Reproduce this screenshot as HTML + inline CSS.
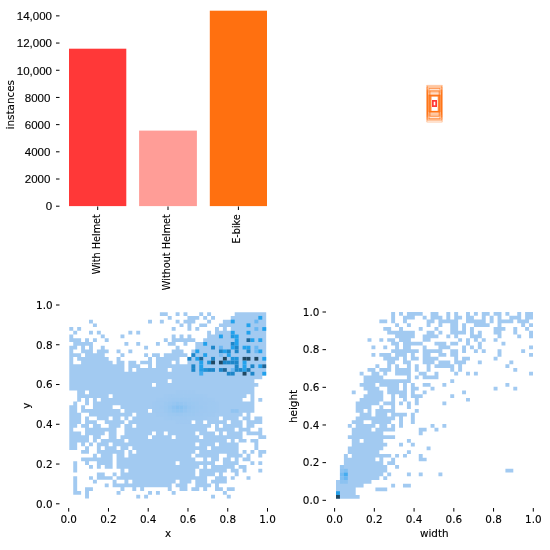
<!DOCTYPE html>
<html lang="en"><head><meta charset="utf-8"><title>labels</title>
<style>html,body{margin:0;padding:0;background:#fff}svg{display:block}</style></head>
<body>
<svg width="550" height="550" viewBox="0 0 550 550">
<rect width="550" height="550" fill="#fff"/>
<rect x="69.00" y="48.70" width="57.30" height="157.40" fill="#FF3838"/>
<rect x="139.10" y="130.60" width="57.80" height="75.50" fill="#FF9D97"/>
<rect x="209.80" y="10.70" width="57.20" height="195.40" fill="#FF7010"/>
<g stroke="#000000" stroke-width="1.00">
<line x1="56.00" x2="59.50" y1="206.20" y2="206.20"/>
<line x1="56.00" x2="59.50" y1="179.01" y2="179.01"/>
<line x1="56.00" x2="59.50" y1="151.82" y2="151.82"/>
<line x1="56.00" x2="59.50" y1="124.63" y2="124.63"/>
<line x1="56.00" x2="59.50" y1="97.44" y2="97.44"/>
<line x1="56.00" x2="59.50" y1="70.25" y2="70.25"/>
<line x1="56.00" x2="59.50" y1="43.06" y2="43.06"/>
<line x1="56.00" x2="59.50" y1="15.87" y2="15.87"/>
<line x1="97.70" x2="97.70" y1="206.50" y2="210.00"/>
<line x1="168.00" x2="168.00" y1="206.50" y2="210.00"/>
<line x1="238.40" x2="238.40" y1="206.50" y2="210.00"/>
<line x1="68.70" x2="68.70" y1="508.00" y2="511.60"/>
<line x1="56.00" x2="59.50" y1="503.80" y2="503.80"/>
<line x1="108.46" x2="108.46" y1="508.00" y2="511.60"/>
<line x1="56.00" x2="59.50" y1="464.04" y2="464.04"/>
<line x1="148.22" x2="148.22" y1="508.00" y2="511.60"/>
<line x1="56.00" x2="59.50" y1="424.28" y2="424.28"/>
<line x1="187.98" x2="187.98" y1="508.00" y2="511.60"/>
<line x1="56.00" x2="59.50" y1="384.52" y2="384.52"/>
<line x1="227.74" x2="227.74" y1="508.00" y2="511.60"/>
<line x1="56.00" x2="59.50" y1="344.76" y2="344.76"/>
<line x1="267.50" x2="267.50" y1="508.00" y2="511.60"/>
<line x1="56.00" x2="59.50" y1="305.00" y2="305.00"/>
<line x1="334.60" x2="334.60" y1="508.00" y2="511.60"/>
<line x1="322.50" x2="326.00" y1="500.30" y2="500.30"/>
<line x1="374.34" x2="374.34" y1="508.00" y2="511.60"/>
<line x1="322.50" x2="326.00" y1="462.64" y2="462.64"/>
<line x1="414.08" x2="414.08" y1="508.00" y2="511.60"/>
<line x1="322.50" x2="326.00" y1="424.98" y2="424.98"/>
<line x1="453.82" x2="453.82" y1="508.00" y2="511.60"/>
<line x1="322.50" x2="326.00" y1="387.32" y2="387.32"/>
<line x1="493.56" x2="493.56" y1="508.00" y2="511.60"/>
<line x1="322.50" x2="326.00" y1="349.66" y2="349.66"/>
<line x1="533.30" x2="533.30" y1="508.00" y2="511.60"/>
<line x1="322.50" x2="326.00" y1="312.00" y2="312.00"/>
</g>
<g font-family="'Liberation Sans', Arial, sans-serif" font-size="10.50" fill="#000000" stroke="#000000" stroke-width="0.12" text-anchor="end">
<text transform="translate(52.30 210.45) scale(1.100 1)">0</text>
<text transform="translate(50.40 183.26) scale(1.100 1)">2000</text>
<text transform="translate(50.40 156.07) scale(1.100 1)">4000</text>
<text transform="translate(50.40 128.88) scale(1.100 1)">6000</text>
<text transform="translate(50.40 101.69) scale(1.100 1)">8000</text>
<text transform="translate(52.00 74.50) scale(1.100 1)">10,000</text>
<text transform="translate(52.00 47.31) scale(1.100 1)">12,000</text>
<text transform="translate(52.00 20.12) scale(1.100 1)">14,000</text>
</g>
<g font-family="'DejaVu Sans', 'Liberation Sans', sans-serif" fill="#000000" stroke="#000000" stroke-width="0.12">
<text font-size="9.68" text-anchor="end" transform="translate(99.90 214.20) rotate(-90)">With Helmet</text>
<text font-size="9.68" text-anchor="end" transform="translate(170.10 214.20) rotate(-90)">Without Helmet</text>
<text font-size="9.68" text-anchor="end" transform="translate(240.30 214.20) rotate(-90)">E-bike</text>
<text font-size="10.40" text-anchor="middle" transform="translate(13.80 104.70) rotate(-90)">instances</text>
<text font-size="10.40" text-anchor="middle" x="68.70" y="523.30">0.0</text>
<text font-size="10.40" text-anchor="end" x="52.60" y="507.60">0.0</text>
<text font-size="10.40" text-anchor="middle" x="108.46" y="523.30">0.2</text>
<text font-size="10.40" text-anchor="end" x="52.60" y="467.84">0.2</text>
<text font-size="10.40" text-anchor="middle" x="148.22" y="523.30">0.4</text>
<text font-size="10.40" text-anchor="end" x="52.60" y="428.08">0.4</text>
<text font-size="10.40" text-anchor="middle" x="187.98" y="523.30">0.6</text>
<text font-size="10.40" text-anchor="end" x="52.60" y="388.32">0.6</text>
<text font-size="10.40" text-anchor="middle" x="227.74" y="523.30">0.8</text>
<text font-size="10.40" text-anchor="end" x="52.60" y="348.56">0.8</text>
<text font-size="10.40" text-anchor="middle" x="267.50" y="523.30">1.0</text>
<text font-size="10.40" text-anchor="end" x="52.60" y="308.80">1.0</text>
<text font-size="10.40" text-anchor="middle" x="168.20" y="537.00">x</text>
<text font-size="10.40" text-anchor="middle" transform="translate(29.50 405.70) rotate(-90)">y</text>
<text font-size="10.40" text-anchor="middle" x="334.60" y="523.30">0.0</text>
<text font-size="10.40" text-anchor="end" x="319.30" y="504.10">0.0</text>
<text font-size="10.40" text-anchor="middle" x="374.34" y="523.30">0.2</text>
<text font-size="10.40" text-anchor="end" x="319.30" y="466.44">0.2</text>
<text font-size="10.40" text-anchor="middle" x="414.08" y="523.30">0.4</text>
<text font-size="10.40" text-anchor="end" x="319.30" y="428.78">0.4</text>
<text font-size="10.40" text-anchor="middle" x="453.82" y="523.30">0.6</text>
<text font-size="10.40" text-anchor="end" x="319.30" y="391.12">0.6</text>
<text font-size="10.40" text-anchor="middle" x="493.56" y="523.30">0.8</text>
<text font-size="10.40" text-anchor="end" x="319.30" y="353.46">0.8</text>
<text font-size="10.40" text-anchor="middle" x="533.30" y="523.30">1.0</text>
<text font-size="10.40" text-anchor="end" x="319.30" y="315.80">1.0</text>
<text font-size="10.40" text-anchor="middle" x="434.30" y="537.00">width</text>
<text font-size="10.40" text-anchor="middle" transform="translate(296.50 406.50) rotate(-90)">height</text>
</g>
<path fill="#a2caf1" d="M159.87 312.20h7.88v3.73h-7.88zM175.63 312.20h3.94v3.73h-3.94zM183.50 312.20h3.94v3.73h-3.94zM199.25 312.20h3.94v3.73h-3.94zM207.13 312.20h3.94v3.73h-3.94zM234.70 312.20h31.50v3.73h-31.50zM167.75 315.93h3.94v3.73h-3.94zM187.44 315.93h11.81v3.73h-11.81zM203.19 315.93h3.94v3.73h-3.94zM211.07 315.93h3.94v3.73h-3.94zM230.76 315.93h35.44v3.73h-35.44zM88.99 319.65h3.94v3.73h-3.94zM148.06 319.65h3.94v3.73h-3.94zM159.87 319.65h3.94v3.73h-3.94zM175.63 319.65h3.94v3.73h-3.94zM183.50 319.65h11.81v3.73h-11.81zM207.13 319.65h3.94v3.73h-3.94zM222.88 319.65h43.32v3.73h-43.32zM92.93 323.38h3.94v3.73h-3.94zM179.56 323.38h3.94v3.73h-3.94zM187.44 323.38h3.94v3.73h-3.94zM199.25 323.38h7.88v3.73h-7.88zM218.94 323.38h47.26v3.73h-47.26zM69.30 327.10h3.94v3.73h-3.94zM77.18 327.10h3.94v3.73h-3.94zM171.69 327.10h3.94v3.73h-3.94zM187.44 327.10h3.94v3.73h-3.94zM195.32 327.10h3.94v3.73h-3.94zM215.01 327.10h3.94v3.73h-3.94zM222.88 327.10h3.94v3.73h-3.94zM230.76 327.10h35.44v3.73h-35.44zM73.24 330.83h3.94v3.73h-3.94zM88.99 330.83h3.94v3.73h-3.94zM96.87 330.83h3.94v3.73h-3.94zM128.37 330.83h3.94v3.73h-3.94zM136.25 330.83h3.94v3.73h-3.94zM207.13 330.83h3.94v3.73h-3.94zM215.01 330.83h51.19v3.73h-51.19zM69.30 334.56h3.94v3.73h-3.94zM100.80 334.56h3.94v3.73h-3.94zM120.49 334.56h3.94v3.73h-3.94zM171.69 334.56h3.94v3.73h-3.94zM179.56 334.56h3.94v3.73h-3.94zM187.44 334.56h3.94v3.73h-3.94zM207.13 334.56h59.07v3.73h-59.07zM69.30 338.28h11.81v3.73h-11.81zM85.05 338.28h3.94v3.73h-3.94zM92.93 338.28h3.94v3.73h-3.94zM104.74 338.28h3.94v3.73h-3.94zM163.81 338.28h3.94v3.73h-3.94zM171.69 338.28h23.63v3.73h-23.63zM203.19 338.28h63.01v3.73h-63.01zM73.24 342.01h19.69v3.73h-19.69zM124.43 342.01h3.94v3.73h-3.94zM136.25 342.01h3.94v3.73h-3.94zM155.94 342.01h3.94v3.73h-3.94zM167.75 342.01h7.88v3.73h-7.88zM183.50 342.01h3.94v3.73h-3.94zM195.32 342.01h70.88v3.73h-70.88zM69.30 345.73h7.88v3.73h-7.88zM81.11 345.73h3.94v3.73h-3.94zM88.99 345.73h3.94v3.73h-3.94zM100.80 345.73h3.94v3.73h-3.94zM144.12 345.73h3.94v3.73h-3.94zM175.63 345.73h3.94v3.73h-3.94zM195.32 345.73h70.88v3.73h-70.88zM69.30 349.46h3.94v3.73h-3.94zM81.11 349.46h11.81v3.73h-11.81zM96.87 349.46h11.81v3.73h-11.81zM116.56 349.46h3.94v3.73h-3.94zM128.37 349.46h3.94v3.73h-3.94zM171.69 349.46h11.81v3.73h-11.81zM191.38 349.46h74.82v3.73h-74.82zM69.30 353.19h11.81v3.73h-11.81zM85.05 353.19h19.69v3.73h-19.69zM120.49 353.19h3.94v3.73h-3.94zM144.12 353.19h3.94v3.73h-3.94zM152.00 353.19h7.88v3.73h-7.88zM163.81 353.19h23.63v3.73h-23.63zM191.38 353.19h74.82v3.73h-74.82zM69.30 356.91h3.94v3.73h-3.94zM77.18 356.91h31.50v3.73h-31.50zM116.56 356.91h3.94v3.73h-3.94zM148.06 356.91h3.94v3.73h-3.94zM155.94 356.91h23.63v3.73h-23.63zM187.44 356.91h78.76v3.73h-78.76zM69.30 360.64h3.94v3.73h-3.94zM81.11 360.64h31.50v3.73h-31.50zM116.56 360.64h7.88v3.73h-7.88zM128.37 360.64h7.88v3.73h-7.88zM140.18 360.64h11.81v3.73h-11.81zM155.94 360.64h15.75v3.73h-15.75zM175.63 360.64h3.94v3.73h-3.94zM187.44 360.64h78.76v3.73h-78.76zM69.30 364.36h55.13v3.73h-55.13zM128.37 364.36h11.81v3.73h-11.81zM148.06 364.36h3.94v3.73h-3.94zM155.94 364.36h110.26v3.73h-110.26zM69.30 368.09h55.13v3.73h-55.13zM128.37 368.09h3.94v3.73h-3.94zM136.25 368.09h31.50v3.73h-31.50zM171.69 368.09h94.51v3.73h-94.51zM69.30 371.82h196.90v3.73h-196.90zM69.30 375.54h192.96v3.73h-192.96zM69.30 379.27h98.45v3.73h-98.45zM171.69 379.27h82.70v3.73h-82.70zM69.30 382.99h82.70v3.73h-82.70zM155.94 382.99h102.39v3.73h-102.39zM69.30 386.72h185.09v3.73h-185.09zM77.18 390.45h7.88v3.73h-7.88zM88.99 390.45h165.40v3.73h-165.40zM77.18 394.17h31.50v3.73h-31.50zM112.62 394.17h133.89v3.73h-133.89zM250.45 394.17h3.94v3.73h-3.94zM77.18 397.90h3.94v3.73h-3.94zM85.05 397.90h3.94v3.73h-3.94zM92.93 397.90h3.94v3.73h-3.94zM100.80 397.90h141.77v3.73h-141.77zM250.45 397.90h3.94v3.73h-3.94zM258.32 397.90h3.94v3.73h-3.94zM73.24 401.62h3.94v3.73h-3.94zM85.05 401.62h3.94v3.73h-3.94zM92.93 401.62h161.46v3.73h-161.46zM69.30 405.35h7.88v3.73h-7.88zM81.11 405.35h3.94v3.73h-3.94zM92.93 405.35h19.69v3.73h-19.69zM120.49 405.35h133.89v3.73h-133.89zM69.30 409.08h7.88v3.73h-7.88zM81.11 409.08h39.38v3.73h-39.38zM124.43 409.08h23.63v3.73h-23.63zM152.00 409.08h102.39v3.73h-102.39zM69.30 412.80h11.81v3.73h-11.81zM88.99 412.80h43.32v3.73h-43.32zM136.25 412.80h106.33v3.73h-106.33zM246.51 412.80h3.94v3.73h-3.94zM69.30 416.53h11.81v3.73h-11.81zM85.05 416.53h3.94v3.73h-3.94zM96.87 416.53h11.81v3.73h-11.81zM112.62 416.53h7.88v3.73h-7.88zM124.43 416.53h3.94v3.73h-3.94zM132.31 416.53h86.64v3.73h-86.64zM222.88 416.53h15.75v3.73h-15.75zM242.57 416.53h7.88v3.73h-7.88zM254.39 416.53h7.88v3.73h-7.88zM69.30 420.25h11.81v3.73h-11.81zM85.05 420.25h11.81v3.73h-11.81zM104.74 420.25h19.69v3.73h-19.69zM128.37 420.25h63.01v3.73h-63.01zM195.32 420.25h7.88v3.73h-7.88zM207.13 420.25h19.69v3.73h-19.69zM230.76 420.25h11.81v3.73h-11.81zM246.51 420.25h15.75v3.73h-15.75zM69.30 423.98h7.88v3.73h-7.88zM81.11 423.98h7.88v3.73h-7.88zM92.93 423.98h7.88v3.73h-7.88zM108.68 423.98h11.81v3.73h-11.81zM124.43 423.98h7.88v3.73h-7.88zM136.25 423.98h74.82v3.73h-74.82zM215.01 423.98h3.94v3.73h-3.94zM222.88 423.98h19.69v3.73h-19.69zM246.51 423.98h7.88v3.73h-7.88zM69.30 427.71h3.94v3.73h-3.94zM85.05 427.71h31.50v3.73h-31.50zM124.43 427.71h82.70v3.73h-82.70zM215.01 427.71h19.69v3.73h-19.69zM238.63 427.71h11.81v3.73h-11.81zM258.32 427.71h3.94v3.73h-3.94zM69.30 431.43h11.81v3.73h-11.81zM85.05 431.43h19.69v3.73h-19.69zM108.68 431.43h7.88v3.73h-7.88zM124.43 431.43h27.57v3.73h-27.57zM155.94 431.43h7.88v3.73h-7.88zM167.75 431.43h27.57v3.73h-27.57zM199.25 431.43h15.75v3.73h-15.75zM218.94 431.43h3.94v3.73h-3.94zM226.82 431.43h15.75v3.73h-15.75zM246.51 431.43h15.75v3.73h-15.75zM69.30 435.16h19.69v3.73h-19.69zM92.93 435.16h7.88v3.73h-7.88zM108.68 435.16h7.88v3.73h-7.88zM120.49 435.16h27.57v3.73h-27.57zM152.00 435.16h19.69v3.73h-19.69zM175.63 435.16h23.63v3.73h-23.63zM203.19 435.16h39.38v3.73h-39.38zM258.32 435.16h7.88v3.73h-7.88zM69.30 438.88h19.69v3.73h-19.69zM92.93 438.88h3.94v3.73h-3.94zM100.80 438.88h23.63v3.73h-23.63zM128.37 438.88h98.45v3.73h-98.45zM230.76 438.88h3.94v3.73h-3.94zM238.63 438.88h7.88v3.73h-7.88zM250.45 438.88h7.88v3.73h-7.88zM69.30 442.61h7.88v3.73h-7.88zM81.11 442.61h3.94v3.73h-3.94zM88.99 442.61h3.94v3.73h-3.94zM96.87 442.61h11.81v3.73h-11.81zM112.62 442.61h82.70v3.73h-82.70zM199.25 442.61h15.75v3.73h-15.75zM218.94 442.61h19.69v3.73h-19.69zM254.39 442.61h3.94v3.73h-3.94zM69.30 446.34h7.88v3.73h-7.88zM85.05 446.34h3.94v3.73h-3.94zM96.87 446.34h3.94v3.73h-3.94zM104.74 446.34h11.81v3.73h-11.81zM120.49 446.34h7.88v3.73h-7.88zM132.31 446.34h74.82v3.73h-74.82zM211.07 446.34h27.57v3.73h-27.57zM254.39 446.34h3.94v3.73h-3.94zM81.11 450.06h7.88v3.73h-7.88zM96.87 450.06h27.57v3.73h-27.57zM128.37 450.06h3.94v3.73h-3.94zM136.25 450.06h59.07v3.73h-59.07zM199.25 450.06h39.38v3.73h-39.38zM242.57 450.06h3.94v3.73h-3.94zM250.45 450.06h3.94v3.73h-3.94zM258.32 450.06h7.88v3.73h-7.88zM92.93 453.79h3.94v3.73h-3.94zM100.80 453.79h11.81v3.73h-11.81zM116.56 453.79h7.88v3.73h-7.88zM128.37 453.79h63.01v3.73h-63.01zM195.32 453.79h23.63v3.73h-23.63zM226.82 453.79h15.75v3.73h-15.75zM246.51 453.79h3.94v3.73h-3.94zM258.32 453.79h3.94v3.73h-3.94zM81.11 457.51h31.50v3.73h-31.50zM116.56 457.51h78.76v3.73h-78.76zM203.19 457.51h3.94v3.73h-3.94zM211.07 457.51h7.88v3.73h-7.88zM222.88 457.51h7.88v3.73h-7.88zM234.70 457.51h3.94v3.73h-3.94zM242.57 457.51h7.88v3.73h-7.88zM73.24 461.24h3.94v3.73h-3.94zM85.05 461.24h3.94v3.73h-3.94zM96.87 461.24h15.75v3.73h-15.75zM116.56 461.24h59.07v3.73h-59.07zM179.56 461.24h35.44v3.73h-35.44zM222.88 461.24h15.75v3.73h-15.75zM250.45 461.24h3.94v3.73h-3.94zM258.32 461.24h3.94v3.73h-3.94zM73.24 464.97h3.94v3.73h-3.94zM88.99 464.97h3.94v3.73h-3.94zM96.87 464.97h3.94v3.73h-3.94zM104.74 464.97h7.88v3.73h-7.88zM116.56 464.97h82.70v3.73h-82.70zM203.19 464.97h3.94v3.73h-3.94zM211.07 464.97h23.63v3.73h-23.63zM238.63 464.97h7.88v3.73h-7.88zM73.24 468.69h3.94v3.73h-3.94zM120.49 468.69h3.94v3.73h-3.94zM128.37 468.69h66.95v3.73h-66.95zM199.25 468.69h27.57v3.73h-27.57zM230.76 468.69h7.88v3.73h-7.88zM242.57 468.69h3.94v3.73h-3.94zM258.32 468.69h3.94v3.73h-3.94zM96.87 472.42h7.88v3.73h-7.88zM112.62 472.42h3.94v3.73h-3.94zM120.49 472.42h74.82v3.73h-74.82zM199.25 472.42h15.75v3.73h-15.75zM218.94 472.42h3.94v3.73h-3.94zM234.70 472.42h3.94v3.73h-3.94zM73.24 476.14h3.94v3.73h-3.94zM88.99 476.14h3.94v3.73h-3.94zM96.87 476.14h15.75v3.73h-15.75zM116.56 476.14h90.57v3.73h-90.57zM215.01 476.14h11.81v3.73h-11.81zM230.76 476.14h3.94v3.73h-3.94zM246.51 476.14h3.94v3.73h-3.94zM73.24 479.87h3.94v3.73h-3.94zM92.93 479.87h3.94v3.73h-3.94zM112.62 479.87h3.94v3.73h-3.94zM124.43 479.87h3.94v3.73h-3.94zM132.31 479.87h43.32v3.73h-43.32zM179.56 479.87h11.81v3.73h-11.81zM195.32 479.87h11.81v3.73h-11.81zM211.07 479.87h15.75v3.73h-15.75zM73.24 483.60h3.94v3.73h-3.94zM104.74 483.60h3.94v3.73h-3.94zM112.62 483.60h59.07v3.73h-59.07zM175.63 483.60h11.81v3.73h-11.81zM195.32 483.60h15.75v3.73h-15.75zM215.01 483.60h3.94v3.73h-3.94zM73.24 487.32h3.94v3.73h-3.94zM85.05 487.32h7.88v3.73h-7.88zM120.49 487.32h3.94v3.73h-3.94zM132.31 487.32h3.94v3.73h-3.94zM140.18 487.32h3.94v3.73h-3.94zM167.75 487.32h3.94v3.73h-3.94zM179.56 487.32h7.88v3.73h-7.88zM191.38 487.32h7.88v3.73h-7.88zM203.19 487.32h3.94v3.73h-3.94zM215.01 487.32h7.88v3.73h-7.88zM226.82 487.32h7.88v3.73h-7.88zM73.24 491.05h7.88v3.73h-7.88zM85.05 491.05h3.94v3.73h-3.94zM116.56 491.05h3.94v3.73h-3.94zM148.06 491.05h3.94v3.73h-3.94zM155.94 491.05h3.94v3.73h-3.94zM171.69 491.05h3.94v3.73h-3.94zM222.88 491.05h3.94v3.73h-3.94zM85.05 494.77h3.94v3.73h-3.94zM136.25 494.77h3.94v3.73h-3.94zM144.12 494.77h3.94v3.73h-3.94zM211.07 494.77h3.94v3.73h-3.94zM226.82 494.77h3.94v3.73h-3.94zM69.30 334.56h3.94v7.45h-3.94zM69.30 345.73h3.94v44.71h-3.94zM69.30 405.35h3.94v44.71h-3.94zM73.24 338.28h3.94v11.18h-3.94zM73.24 364.36h3.94v26.08h-3.94zM73.24 401.62h3.94v26.08h-3.94zM73.24 431.43h3.94v18.63h-3.94zM73.24 461.24h3.94v11.18h-3.94zM73.24 476.14h3.94v18.63h-3.94zM77.18 338.28h3.94v7.45h-3.94zM77.18 353.19h3.94v7.45h-3.94zM77.18 364.36h3.94v37.26h-3.94zM77.18 412.80h3.94v11.18h-3.94zM77.18 431.43h3.94v11.18h-3.94zM81.11 342.01h3.94v11.18h-3.94zM81.11 356.91h3.94v40.99h-3.94zM81.11 405.35h3.94v7.45h-3.94zM81.11 435.16h3.94v11.18h-3.94zM85.05 338.28h3.94v7.45h-3.94zM85.05 349.46h3.94v40.99h-3.94zM85.05 394.17h3.94v11.18h-3.94zM85.05 416.53h3.94v26.08h-3.94zM85.05 446.34h3.94v7.45h-3.94zM85.05 457.51h3.94v7.45h-3.94zM85.05 487.32h3.94v11.18h-3.94zM88.99 342.01h3.94v55.89h-3.94zM88.99 409.08h3.94v7.45h-3.94zM88.99 427.71h3.94v7.45h-3.94zM92.93 353.19h3.94v63.34h-3.94zM92.93 420.25h3.94v22.36h-3.94zM92.93 453.79h3.94v7.45h-3.94zM96.87 349.46h3.94v48.44h-3.94zM96.87 401.62h3.94v18.63h-3.94zM96.87 423.98h3.94v14.90h-3.94zM96.87 442.61h3.94v11.18h-3.94zM96.87 457.51h3.94v11.18h-3.94zM96.87 472.42h3.94v7.45h-3.94zM100.80 345.73h3.94v74.52h-3.94zM100.80 427.71h3.94v7.45h-3.94zM100.80 438.88h3.94v7.45h-3.94zM100.80 450.06h3.94v14.90h-3.94zM100.80 472.42h3.94v7.45h-3.94zM104.74 356.91h3.94v67.07h-3.94zM104.74 438.88h3.94v29.81h-3.94zM108.68 360.64h3.94v33.53h-3.94zM108.68 397.90h3.94v18.63h-3.94zM108.68 420.25h3.94v22.36h-3.94zM108.68 446.34h3.94v22.36h-3.94zM112.62 364.36h3.94v40.99h-3.94zM112.62 409.08h3.94v44.71h-3.94zM112.62 479.87h3.94v7.45h-3.94zM116.56 356.91h3.94v48.44h-3.94zM116.56 409.08h3.94v18.63h-3.94zM116.56 438.88h3.94v7.45h-3.94zM116.56 450.06h3.94v18.63h-3.94zM120.49 360.64h3.94v48.44h-3.94zM120.49 435.16h3.94v44.71h-3.94zM120.49 483.60h3.94v7.45h-3.94zM124.43 371.82h3.94v48.44h-3.94zM124.43 423.98h3.94v14.90h-3.94zM124.43 442.61h3.94v7.45h-3.94zM124.43 457.51h3.94v11.18h-3.94zM124.43 472.42h3.94v14.90h-3.94zM128.37 360.64h3.94v55.89h-3.94zM128.37 420.25h3.94v26.08h-3.94zM128.37 450.06h3.94v29.81h-3.94zM132.31 360.64h3.94v7.45h-3.94zM132.31 371.82h3.94v40.99h-3.94zM132.31 416.53h3.94v7.45h-3.94zM132.31 427.71h3.94v22.36h-3.94zM132.31 453.79h3.94v37.26h-3.94zM136.25 364.36h3.94v122.96h-3.94zM140.18 368.09h3.94v122.96h-3.94zM144.12 368.09h3.94v119.23h-3.94zM148.06 356.91h3.94v52.16h-3.94zM148.06 412.80h3.94v22.36h-3.94zM148.06 438.88h3.94v48.44h-3.94zM152.00 368.09h3.94v14.90h-3.94zM152.00 386.72h3.94v44.71h-3.94zM152.00 435.16h3.94v52.16h-3.94zM155.94 353.19h3.94v134.14h-3.94zM159.87 356.91h3.94v130.41h-3.94zM163.81 353.19h3.94v78.25h-3.94zM163.81 435.16h3.94v52.16h-3.94zM167.75 353.19h3.94v14.90h-3.94zM167.75 371.82h3.94v7.45h-3.94zM167.75 382.99h3.94v108.05h-3.94zM171.69 334.56h3.94v11.18h-3.94zM171.69 349.46h3.94v11.18h-3.94zM171.69 364.36h3.94v70.79h-3.94zM171.69 438.88h3.94v44.71h-3.94zM175.63 345.73h3.94v115.51h-3.94zM175.63 464.97h3.94v14.90h-3.94zM179.56 334.56h3.94v7.45h-3.94zM179.56 349.46h3.94v7.45h-3.94zM179.56 364.36h3.94v126.68h-3.94zM183.50 338.28h3.94v7.45h-3.94zM183.50 364.36h3.94v126.68h-3.94zM187.44 315.93h3.94v14.90h-3.94zM187.44 334.56h3.94v7.45h-3.94zM187.44 356.91h3.94v126.68h-3.94zM191.38 315.93h3.94v7.45h-3.94zM191.38 349.46h3.94v70.79h-3.94zM191.38 423.98h3.94v29.81h-3.94zM191.38 457.51h3.94v22.36h-3.94zM195.32 342.01h3.94v89.42h-3.94zM195.32 435.16h3.94v7.45h-3.94zM195.32 461.24h3.94v7.45h-3.94zM195.32 476.14h3.94v14.90h-3.94zM199.25 342.01h3.94v93.15h-3.94zM199.25 438.88h3.94v18.63h-3.94zM199.25 468.69h3.94v18.63h-3.94zM203.19 338.28h3.94v81.97h-3.94zM203.19 423.98h3.94v67.07h-3.94zM207.13 330.83h3.94v96.88h-3.94zM207.13 431.43h3.94v14.90h-3.94zM207.13 450.06h3.94v7.45h-3.94zM207.13 468.69h3.94v7.45h-3.94zM211.07 334.56h3.94v89.42h-3.94zM211.07 431.43h3.94v44.71h-3.94zM215.01 327.10h3.94v104.33h-3.94zM215.01 435.16h3.94v7.45h-3.94zM215.01 446.34h3.94v14.90h-3.94zM215.01 464.97h3.94v7.45h-3.94zM215.01 476.14h3.94v14.90h-3.94zM218.94 330.83h3.94v85.70h-3.94zM218.94 427.71h3.94v26.08h-3.94zM218.94 464.97h3.94v18.63h-3.94zM222.88 319.65h3.94v111.78h-3.94zM222.88 435.16h3.94v18.63h-3.94zM222.88 457.51h3.94v14.90h-3.94zM222.88 476.14h3.94v7.45h-3.94zM226.82 319.65h3.94v7.45h-3.94zM226.82 330.83h3.94v89.42h-3.94zM226.82 423.98h3.94v14.90h-3.94zM226.82 442.61h3.94v26.08h-3.94zM230.76 315.93h3.94v141.59h-3.94zM230.76 461.24h3.94v11.18h-3.94zM234.70 312.20h3.94v115.51h-3.94zM234.70 431.43h3.94v7.45h-3.94zM234.70 442.61h3.94v22.36h-3.94zM234.70 468.69h3.94v7.45h-3.94zM238.63 312.20h3.94v104.33h-3.94zM238.63 420.25h3.94v22.36h-3.94zM242.57 312.20h3.94v85.70h-3.94zM242.57 401.62h3.94v11.18h-3.94zM242.57 464.97h3.94v7.45h-3.94zM246.51 312.20h3.94v81.97h-3.94zM246.51 401.62h3.94v33.53h-3.94zM246.51 453.79h3.94v7.45h-3.94zM250.45 312.20h3.94v100.60h-3.94zM250.45 420.25h3.94v7.45h-3.94zM254.39 312.20h3.94v67.07h-3.94zM254.39 416.53h3.94v7.45h-3.94zM254.39 438.88h3.94v11.18h-3.94zM258.32 312.20h3.94v67.07h-3.94zM258.32 416.53h3.94v7.45h-3.94zM258.32 427.71h3.94v11.18h-3.94zM258.32 450.06h3.94v7.45h-3.94zM262.26 312.20h3.94v63.34h-3.94z"/><g><rect x="258.32" y="315.93" width="3.94" height="3.73" fill="#22a1ec"/><rect x="230.76" y="319.65" width="3.94" height="3.73" fill="#22a1ec"/><rect x="254.39" y="319.65" width="3.94" height="3.73" fill="#6ab7f2"/><rect x="246.51" y="323.38" width="3.94" height="3.73" fill="#22a1ec"/><rect x="254.39" y="327.10" width="3.94" height="3.73" fill="#6ab7f2"/><rect x="262.26" y="327.10" width="3.94" height="3.73" fill="#22a1ec"/><rect x="230.76" y="330.83" width="3.94" height="3.73" fill="#22a1ec"/><rect x="246.51" y="330.83" width="3.94" height="3.73" fill="#22a1ec"/><rect x="218.94" y="334.56" width="3.94" height="3.73" fill="#22a1ec"/><rect x="230.76" y="334.56" width="3.94" height="3.73" fill="#2099e2"/><rect x="234.70" y="334.56" width="3.94" height="3.73" fill="#22a1ec"/><rect x="234.70" y="338.28" width="3.94" height="3.73" fill="#22a1ec"/><rect x="246.51" y="338.28" width="3.94" height="3.73" fill="#1f6698"/><rect x="250.45" y="338.28" width="3.94" height="3.73" fill="#22a1ec"/><rect x="258.32" y="338.28" width="3.94" height="3.73" fill="#22a1ec"/><rect x="203.19" y="342.01" width="3.94" height="3.73" fill="#22a1ec"/><rect x="230.76" y="342.01" width="3.94" height="3.73" fill="#1d86c9"/><rect x="234.70" y="342.01" width="3.94" height="3.73" fill="#22a1ec"/><rect x="211.07" y="345.73" width="3.94" height="3.73" fill="#1d86c9"/><rect x="218.94" y="345.73" width="3.94" height="3.73" fill="#6ab7f2"/><rect x="230.76" y="345.73" width="3.94" height="3.73" fill="#22a1ec"/><rect x="234.70" y="345.73" width="3.94" height="3.73" fill="#1d86c9"/><rect x="242.57" y="345.73" width="3.94" height="3.73" fill="#22a1ec"/><rect x="246.51" y="345.73" width="3.94" height="3.73" fill="#22a1ec"/><rect x="254.39" y="345.73" width="3.94" height="3.73" fill="#6ab7f2"/><rect x="195.32" y="349.46" width="3.94" height="3.73" fill="#22a1ec"/><rect x="218.94" y="349.46" width="3.94" height="3.73" fill="#1d86c9"/><rect x="222.88" y="349.46" width="3.94" height="3.73" fill="#22a1ec"/><rect x="226.82" y="349.46" width="3.94" height="3.73" fill="#1d86c9"/><rect x="234.70" y="349.46" width="3.94" height="3.73" fill="#1d86c9"/><rect x="246.51" y="349.46" width="3.94" height="3.73" fill="#1d86c9"/><rect x="254.39" y="349.46" width="3.94" height="3.73" fill="#6ab7f2"/><rect x="258.32" y="349.46" width="3.94" height="3.73" fill="#22a1ec"/><rect x="191.38" y="353.19" width="3.94" height="3.73" fill="#1d86c9"/><rect x="203.19" y="353.19" width="3.94" height="3.73" fill="#22a1ec"/><rect x="218.94" y="353.19" width="3.94" height="3.73" fill="#80bff2"/><rect x="226.82" y="353.19" width="3.94" height="3.73" fill="#22a1ec"/><rect x="187.44" y="356.91" width="3.94" height="3.73" fill="#1d86c9"/><rect x="195.32" y="356.91" width="3.94" height="3.73" fill="#22a1ec"/><rect x="199.25" y="356.91" width="3.94" height="3.73" fill="#1f6698"/><rect x="211.07" y="356.91" width="3.94" height="3.73" fill="#1d86c9"/><rect x="222.88" y="356.91" width="3.94" height="3.73" fill="#204862"/><rect x="230.76" y="356.91" width="3.94" height="3.73" fill="#2094da"/><rect x="234.70" y="356.91" width="3.94" height="3.73" fill="#2094da"/><rect x="242.57" y="356.91" width="3.94" height="3.73" fill="#204862"/><rect x="246.51" y="356.91" width="3.94" height="3.73" fill="#204862"/><rect x="254.39" y="356.91" width="3.94" height="3.73" fill="#204862"/><rect x="262.26" y="356.91" width="3.94" height="3.73" fill="#22a1ec"/><rect x="199.25" y="360.64" width="3.94" height="3.73" fill="#22a1ec"/><rect x="207.13" y="360.64" width="3.94" height="3.73" fill="#2094da"/><rect x="211.07" y="360.64" width="3.94" height="3.73" fill="#204862"/><rect x="218.94" y="360.64" width="3.94" height="3.73" fill="#204862"/><rect x="222.88" y="360.64" width="3.94" height="3.73" fill="#1d86c9"/><rect x="226.82" y="360.64" width="3.94" height="3.73" fill="#1d86c9"/><rect x="230.76" y="360.64" width="3.94" height="3.73" fill="#1d86c9"/><rect x="234.70" y="360.64" width="3.94" height="3.73" fill="#1d86c9"/><rect x="242.57" y="360.64" width="3.94" height="3.73" fill="#22a1ec"/><rect x="191.38" y="364.36" width="3.94" height="3.73" fill="#1d86c9"/><rect x="199.25" y="364.36" width="3.94" height="3.73" fill="#22a1ec"/><rect x="234.70" y="364.36" width="3.94" height="3.73" fill="#1d86c9"/><rect x="242.57" y="364.36" width="3.94" height="3.73" fill="#22a1ec"/><rect x="250.45" y="364.36" width="3.94" height="3.73" fill="#1d86c9"/><rect x="258.32" y="364.36" width="3.94" height="3.73" fill="#22a1ec"/><rect x="262.26" y="364.36" width="3.94" height="3.73" fill="#1f6698"/><rect x="191.38" y="368.09" width="3.94" height="3.73" fill="#1d86c9"/><rect x="199.25" y="368.09" width="3.94" height="3.73" fill="#219ce5"/><rect x="203.19" y="368.09" width="3.94" height="3.73" fill="#1f91d7"/><rect x="207.13" y="368.09" width="3.94" height="3.73" fill="#1d86c9"/><rect x="211.07" y="368.09" width="3.94" height="3.73" fill="#1d86c9"/><rect x="218.94" y="368.09" width="3.94" height="3.73" fill="#1d86c9"/><rect x="222.88" y="368.09" width="3.94" height="3.73" fill="#1f6698"/><rect x="230.76" y="368.09" width="3.94" height="3.73" fill="#6ab7f2"/><rect x="234.70" y="368.09" width="3.94" height="3.73" fill="#1d86c9"/><rect x="238.63" y="368.09" width="3.94" height="3.73" fill="#1d86c9"/><rect x="242.57" y="368.09" width="3.94" height="3.73" fill="#22a1ec"/><rect x="246.51" y="368.09" width="3.94" height="3.73" fill="#1e76b0"/><rect x="199.25" y="371.82" width="3.94" height="3.73" fill="#3faaee"/><rect x="226.82" y="371.82" width="3.94" height="3.73" fill="#1d86c9"/><rect x="230.76" y="371.82" width="3.94" height="3.73" fill="#1d86c9"/><rect x="242.57" y="371.82" width="3.94" height="3.73" fill="#204862"/><rect x="250.45" y="371.82" width="3.94" height="3.73" fill="#1d86c9"/><rect x="262.26" y="371.82" width="3.94" height="3.73" fill="#22a1ec"/><rect x="175.63" y="390.45" width="3.94" height="3.73" fill="#a0c9f1"/><rect x="179.56" y="390.45" width="3.94" height="3.73" fill="#a0c9f1"/><rect x="183.50" y="390.45" width="3.94" height="3.73" fill="#a0c9f1"/><rect x="187.44" y="390.45" width="3.94" height="3.73" fill="#a0c9f1"/><rect x="191.38" y="390.45" width="3.94" height="3.73" fill="#a0c9f1"/><rect x="163.81" y="394.17" width="3.94" height="3.73" fill="#a0c9f1"/><rect x="167.75" y="394.17" width="3.94" height="3.73" fill="#9fc9f1"/><rect x="171.69" y="394.17" width="3.94" height="3.73" fill="#9fc9f1"/><rect x="175.63" y="394.17" width="3.94" height="3.73" fill="#9fc9f1"/><rect x="179.56" y="394.17" width="3.94" height="3.73" fill="#9fc9f1"/><rect x="183.50" y="394.17" width="3.94" height="3.73" fill="#9fc9f1"/><rect x="187.44" y="394.17" width="3.94" height="3.73" fill="#9fc9f1"/><rect x="191.38" y="394.17" width="3.94" height="3.73" fill="#9fc9f1"/><rect x="195.32" y="394.17" width="3.94" height="3.73" fill="#9fc9f1"/><rect x="199.25" y="394.17" width="3.94" height="3.73" fill="#9fc9f1"/><rect x="203.19" y="394.17" width="3.94" height="3.73" fill="#a0c9f1"/><rect x="155.94" y="397.90" width="3.94" height="3.73" fill="#a0c9f1"/><rect x="159.87" y="397.90" width="3.94" height="3.73" fill="#9fc9f1"/><rect x="163.81" y="397.90" width="3.94" height="3.73" fill="#9fc9f1"/><rect x="167.75" y="397.90" width="3.94" height="3.73" fill="#9ec8f1"/><rect x="171.69" y="397.90" width="3.94" height="3.73" fill="#9cc8f1"/><rect x="175.63" y="397.90" width="3.94" height="3.73" fill="#9cc8f1"/><rect x="179.56" y="397.90" width="3.94" height="3.73" fill="#9bc8f1"/><rect x="183.50" y="397.90" width="3.94" height="3.73" fill="#9cc8f1"/><rect x="187.44" y="397.90" width="3.94" height="3.73" fill="#9cc8f1"/><rect x="191.38" y="397.90" width="3.94" height="3.73" fill="#9ec8f1"/><rect x="195.32" y="397.90" width="3.94" height="3.73" fill="#9ec8f1"/><rect x="199.25" y="397.90" width="3.94" height="3.73" fill="#9ec8f1"/><rect x="203.19" y="397.90" width="3.94" height="3.73" fill="#9fc9f1"/><rect x="207.13" y="397.90" width="3.94" height="3.73" fill="#9fc9f1"/><rect x="211.07" y="397.90" width="3.94" height="3.73" fill="#a0c9f1"/><rect x="152.00" y="401.62" width="3.94" height="3.73" fill="#a0c9f1"/><rect x="155.94" y="401.62" width="3.94" height="3.73" fill="#9fc9f1"/><rect x="159.87" y="401.62" width="3.94" height="3.73" fill="#9fc9f1"/><rect x="163.81" y="401.62" width="3.94" height="3.73" fill="#9cc8f1"/><rect x="167.75" y="401.62" width="3.94" height="3.73" fill="#9ac7f1"/><rect x="171.69" y="401.62" width="3.94" height="3.73" fill="#97c6f1"/><rect x="175.63" y="401.62" width="3.94" height="3.73" fill="#93c5f1"/><rect x="179.56" y="401.62" width="3.94" height="3.73" fill="#95c5f1"/><rect x="183.50" y="401.62" width="3.94" height="3.73" fill="#97c6f1"/><rect x="187.44" y="401.62" width="3.94" height="3.73" fill="#9ac7f1"/><rect x="191.38" y="401.62" width="3.94" height="3.73" fill="#9bc8f1"/><rect x="195.32" y="401.62" width="3.94" height="3.73" fill="#9cc8f1"/><rect x="199.25" y="401.62" width="3.94" height="3.73" fill="#9ec8f1"/><rect x="203.19" y="401.62" width="3.94" height="3.73" fill="#9ec8f1"/><rect x="207.13" y="401.62" width="3.94" height="3.73" fill="#9fc9f1"/><rect x="211.07" y="401.62" width="3.94" height="3.73" fill="#9fc9f1"/><rect x="215.01" y="401.62" width="3.94" height="3.73" fill="#a0c9f1"/><rect x="152.00" y="405.35" width="3.94" height="3.73" fill="#a0c9f1"/><rect x="155.94" y="405.35" width="3.94" height="3.73" fill="#9fc9f1"/><rect x="159.87" y="405.35" width="3.94" height="3.73" fill="#9ec8f1"/><rect x="163.81" y="405.35" width="3.94" height="3.73" fill="#9bc8f1"/><rect x="167.75" y="405.35" width="3.94" height="3.73" fill="#96c6f1"/><rect x="171.69" y="405.35" width="3.94" height="3.73" fill="#8ec3f1"/><rect x="175.63" y="405.35" width="3.94" height="3.73" fill="#88c1f1"/><rect x="179.56" y="405.35" width="3.94" height="3.73" fill="#89c2f1"/><rect x="183.50" y="405.35" width="3.94" height="3.73" fill="#90c4f1"/><rect x="187.44" y="405.35" width="3.94" height="3.73" fill="#97c6f1"/><rect x="191.38" y="405.35" width="3.94" height="3.73" fill="#9ac7f1"/><rect x="195.32" y="405.35" width="3.94" height="3.73" fill="#9cc8f1"/><rect x="199.25" y="405.35" width="3.94" height="3.73" fill="#9cc8f1"/><rect x="203.19" y="405.35" width="3.94" height="3.73" fill="#9ec8f1"/><rect x="207.13" y="405.35" width="3.94" height="3.73" fill="#9fc9f1"/><rect x="211.07" y="405.35" width="3.94" height="3.73" fill="#9fc9f1"/><rect x="215.01" y="405.35" width="3.94" height="3.73" fill="#a0c9f1"/><rect x="152.00" y="409.08" width="3.94" height="3.73" fill="#a0c9f1"/><rect x="155.94" y="409.08" width="3.94" height="3.73" fill="#9fc9f1"/><rect x="159.87" y="409.08" width="3.94" height="3.73" fill="#9fc9f1"/><rect x="163.81" y="409.08" width="3.94" height="3.73" fill="#9cc8f1"/><rect x="167.75" y="409.08" width="3.94" height="3.73" fill="#98c7f1"/><rect x="171.69" y="409.08" width="3.94" height="3.73" fill="#92c5f1"/><rect x="175.63" y="409.08" width="3.94" height="3.73" fill="#8fc4f1"/><rect x="179.56" y="409.08" width="3.94" height="3.73" fill="#8fc4f1"/><rect x="183.50" y="409.08" width="3.94" height="3.73" fill="#95c5f1"/><rect x="187.44" y="409.08" width="3.94" height="3.73" fill="#99c7f1"/><rect x="191.38" y="409.08" width="3.94" height="3.73" fill="#9bc8f1"/><rect x="195.32" y="409.08" width="3.94" height="3.73" fill="#9cc8f1"/><rect x="199.25" y="409.08" width="3.94" height="3.73" fill="#9ec8f1"/><rect x="203.19" y="409.08" width="3.94" height="3.73" fill="#9ec8f1"/><rect x="207.13" y="409.08" width="3.94" height="3.73" fill="#9fc9f1"/><rect x="211.07" y="409.08" width="3.94" height="3.73" fill="#9fc9f1"/><rect x="215.01" y="409.08" width="3.94" height="3.73" fill="#a0c9f1"/><rect x="230.76" y="409.08" width="3.94" height="3.73" fill="#91c4f1"/><rect x="234.70" y="409.08" width="3.94" height="3.73" fill="#91c4f1"/><rect x="155.94" y="412.80" width="3.94" height="3.73" fill="#a0c9f1"/><rect x="159.87" y="412.80" width="3.94" height="3.73" fill="#9fc9f1"/><rect x="163.81" y="412.80" width="3.94" height="3.73" fill="#9fc9f1"/><rect x="167.75" y="412.80" width="3.94" height="3.73" fill="#9cc8f1"/><rect x="171.69" y="412.80" width="3.94" height="3.73" fill="#9bc8f1"/><rect x="175.63" y="412.80" width="3.94" height="3.73" fill="#9ac7f1"/><rect x="179.56" y="412.80" width="3.94" height="3.73" fill="#9ac7f1"/><rect x="183.50" y="412.80" width="3.94" height="3.73" fill="#9bc8f1"/><rect x="187.44" y="412.80" width="3.94" height="3.73" fill="#9cc8f1"/><rect x="191.38" y="412.80" width="3.94" height="3.73" fill="#9cc8f1"/><rect x="195.32" y="412.80" width="3.94" height="3.73" fill="#9ec8f1"/><rect x="199.25" y="412.80" width="3.94" height="3.73" fill="#9ec8f1"/><rect x="203.19" y="412.80" width="3.94" height="3.73" fill="#9fc9f1"/><rect x="207.13" y="412.80" width="3.94" height="3.73" fill="#9fc9f1"/><rect x="211.07" y="412.80" width="3.94" height="3.73" fill="#a0c9f1"/><rect x="163.81" y="416.53" width="3.94" height="3.73" fill="#a0c9f1"/><rect x="167.75" y="416.53" width="3.94" height="3.73" fill="#9fc9f1"/><rect x="171.69" y="416.53" width="3.94" height="3.73" fill="#9fc9f1"/><rect x="175.63" y="416.53" width="3.94" height="3.73" fill="#9fc9f1"/><rect x="179.56" y="416.53" width="3.94" height="3.73" fill="#9ec8f1"/><rect x="183.50" y="416.53" width="3.94" height="3.73" fill="#9ec8f1"/><rect x="187.44" y="416.53" width="3.94" height="3.73" fill="#9fc9f1"/><rect x="191.38" y="416.53" width="3.94" height="3.73" fill="#9fc9f1"/><rect x="195.32" y="416.53" width="3.94" height="3.73" fill="#9fc9f1"/><rect x="199.25" y="416.53" width="3.94" height="3.73" fill="#9fc9f1"/><rect x="203.19" y="416.53" width="3.94" height="3.73" fill="#a0c9f1"/><rect x="175.63" y="420.25" width="3.94" height="3.73" fill="#a0c9f1"/><rect x="179.56" y="420.25" width="3.94" height="3.73" fill="#a0c9f1"/><rect x="183.50" y="420.25" width="3.94" height="3.73" fill="#a0c9f1"/><rect x="187.44" y="420.25" width="3.94" height="3.73" fill="#a0c9f1"/></g>
<path fill="#a2caf1" d="M391.16 312.00h3.94v3.73h-3.94zM399.04 312.00h3.94v3.73h-3.94zM406.92 312.00h15.76v3.73h-15.76zM430.56 312.00h7.88v3.73h-7.88zM446.32 312.00h3.94v3.73h-3.94zM454.20 312.00h3.94v3.73h-3.94zM466.02 312.00h3.94v3.73h-3.94zM473.90 312.00h3.94v3.73h-3.94zM481.78 312.00h7.88v3.73h-7.88zM493.60 312.00h7.88v3.73h-7.88zM505.42 312.00h3.94v3.73h-3.94zM517.24 312.00h3.94v3.73h-3.94zM525.12 312.00h7.88v3.73h-7.88zM391.16 315.73h3.94v3.73h-3.94zM402.98 315.73h11.82v3.73h-11.82zM422.68 315.73h3.94v3.73h-3.94zM430.56 315.73h11.82v3.73h-11.82zM446.32 315.73h3.94v3.73h-3.94zM454.20 315.73h7.88v3.73h-7.88zM466.02 315.73h7.88v3.73h-7.88zM481.78 315.73h3.94v3.73h-3.94zM489.66 315.73h3.94v3.73h-3.94zM497.54 315.73h3.94v3.73h-3.94zM509.36 315.73h11.82v3.73h-11.82zM525.12 315.73h7.88v3.73h-7.88zM379.34 319.47h7.88v3.73h-7.88zM391.16 319.47h3.94v3.73h-3.94zM402.98 319.47h3.94v3.73h-3.94zM426.62 319.47h7.88v3.73h-7.88zM438.44 319.47h19.70v3.73h-19.70zM466.02 319.47h19.70v3.73h-19.70zM489.66 319.47h3.94v3.73h-3.94zM497.54 319.47h15.76v3.73h-15.76zM517.24 319.47h11.82v3.73h-11.82zM395.10 323.20h3.94v3.73h-3.94zM406.92 323.20h3.94v3.73h-3.94zM426.62 323.20h3.94v3.73h-3.94zM438.44 323.20h3.94v3.73h-3.94zM450.26 323.20h7.88v3.73h-7.88zM462.08 323.20h3.94v3.73h-3.94zM473.90 323.20h15.76v3.73h-15.76zM497.54 323.20h3.94v3.73h-3.94zM521.18 323.20h3.94v3.73h-3.94zM529.06 323.20h3.94v3.73h-3.94zM383.28 326.94h7.88v3.73h-7.88zM399.04 326.94h3.94v3.73h-3.94zM418.74 326.94h3.94v3.73h-3.94zM434.50 326.94h3.94v3.73h-3.94zM450.26 326.94h7.88v3.73h-7.88zM462.08 326.94h3.94v3.73h-3.94zM469.96 326.94h3.94v3.73h-3.94zM493.60 326.94h11.82v3.73h-11.82zM513.30 326.94h3.94v3.73h-3.94zM525.12 326.94h3.94v3.73h-3.94zM387.22 330.67h27.58v3.73h-27.58zM426.62 330.67h7.88v3.73h-7.88zM438.44 330.67h3.94v3.73h-3.94zM450.26 330.67h15.76v3.73h-15.76zM469.96 330.67h3.94v3.73h-3.94zM477.84 330.67h3.94v3.73h-3.94zM493.60 330.67h7.88v3.73h-7.88zM513.30 330.67h3.94v3.73h-3.94zM529.06 330.67h3.94v3.73h-3.94zM395.10 334.40h19.70v3.73h-19.70zM422.68 334.40h15.76v3.73h-15.76zM446.32 334.40h3.94v3.73h-3.94zM454.20 334.40h3.94v3.73h-3.94zM469.96 334.40h11.82v3.73h-11.82zM497.54 334.40h3.94v3.73h-3.94zM517.24 334.40h3.94v3.73h-3.94zM529.06 334.40h3.94v3.73h-3.94zM367.52 338.14h3.94v3.73h-3.94zM379.34 338.14h3.94v3.73h-3.94zM387.22 338.14h7.88v3.73h-7.88zM399.04 338.14h11.82v3.73h-11.82zM422.68 338.14h7.88v3.73h-7.88zM458.14 338.14h3.94v3.73h-3.94zM466.02 338.14h3.94v3.73h-3.94zM473.90 338.14h3.94v3.73h-3.94zM481.78 338.14h3.94v3.73h-3.94zM493.60 338.14h3.94v3.73h-3.94zM391.16 341.87h7.88v3.73h-7.88zM402.98 341.87h19.70v3.73h-19.70zM434.50 341.87h11.82v3.73h-11.82zM450.26 341.87h7.88v3.73h-7.88zM466.02 341.87h3.94v3.73h-3.94zM477.84 341.87h3.94v3.73h-3.94zM501.48 341.87h3.94v3.73h-3.94zM371.46 345.61h3.94v3.73h-3.94zM383.28 345.61h3.94v3.73h-3.94zM395.10 345.61h3.94v3.73h-3.94zM402.98 345.61h7.88v3.73h-7.88zM422.68 345.61h3.94v3.73h-3.94zM438.44 345.61h11.82v3.73h-11.82zM462.08 345.61h3.94v3.73h-3.94zM469.96 345.61h3.94v3.73h-3.94zM477.84 345.61h3.94v3.73h-3.94zM529.06 345.61h3.94v3.73h-3.94zM391.16 349.34h27.58v3.73h-27.58zM422.68 349.34h19.70v3.73h-19.70zM450.26 349.34h7.88v3.73h-7.88zM462.08 349.34h3.94v3.73h-3.94zM473.90 349.34h3.94v3.73h-3.94zM481.78 349.34h3.94v3.73h-3.94zM497.54 349.34h3.94v3.73h-3.94zM521.18 349.34h3.94v3.73h-3.94zM371.46 353.07h3.94v3.73h-3.94zM379.34 353.07h11.82v3.73h-11.82zM395.10 353.07h11.82v3.73h-11.82zM410.86 353.07h3.94v3.73h-3.94zM422.68 353.07h7.88v3.73h-7.88zM438.44 353.07h7.88v3.73h-7.88zM450.26 353.07h7.88v3.73h-7.88zM497.54 353.07h3.94v3.73h-3.94zM529.06 353.07h3.94v3.73h-3.94zM383.28 356.81h15.76v3.73h-15.76zM402.98 356.81h3.94v3.73h-3.94zM410.86 356.81h7.88v3.73h-7.88zM422.68 356.81h15.76v3.73h-15.76zM454.20 356.81h3.94v3.73h-3.94zM462.08 356.81h7.88v3.73h-7.88zM493.60 356.81h3.94v3.73h-3.94zM387.22 360.54h7.88v3.73h-7.88zM402.98 360.54h7.88v3.73h-7.88zM422.68 360.54h11.82v3.73h-11.82zM438.44 360.54h11.82v3.73h-11.82zM454.20 360.54h11.82v3.73h-11.82zM477.84 360.54h3.94v3.73h-3.94zM509.36 360.54h3.94v3.73h-3.94zM375.40 364.28h3.94v3.73h-3.94zM387.22 364.28h3.94v3.73h-3.94zM395.10 364.28h3.94v3.73h-3.94zM406.92 364.28h3.94v3.73h-3.94zM414.80 364.28h3.94v3.73h-3.94zM426.62 364.28h3.94v3.73h-3.94zM434.50 364.28h19.70v3.73h-19.70zM458.14 364.28h3.94v3.73h-3.94zM505.42 364.28h3.94v3.73h-3.94zM367.52 368.01h7.88v3.73h-7.88zM379.34 368.01h11.82v3.73h-11.82zM395.10 368.01h15.76v3.73h-15.76zM414.80 368.01h3.94v3.73h-3.94zM426.62 368.01h3.94v3.73h-3.94zM450.26 368.01h3.94v3.73h-3.94zM458.14 368.01h3.94v3.73h-3.94zM513.30 368.01h3.94v3.73h-3.94zM359.64 371.74h3.94v3.73h-3.94zM371.46 371.74h7.88v3.73h-7.88zM383.28 371.74h3.94v3.73h-3.94zM395.10 371.74h15.76v3.73h-15.76zM418.74 371.74h7.88v3.73h-7.88zM434.50 371.74h3.94v3.73h-3.94zM454.20 371.74h3.94v3.73h-3.94zM466.02 371.74h3.94v3.73h-3.94zM473.90 371.74h3.94v3.73h-3.94zM529.06 371.74h3.94v3.73h-3.94zM363.58 375.48h19.70v3.73h-19.70zM406.92 375.48h3.94v3.73h-3.94zM414.80 375.48h3.94v3.73h-3.94zM422.68 375.48h15.76v3.73h-15.76zM363.58 379.21h47.28v3.73h-47.28zM450.26 379.21h3.94v3.73h-3.94zM359.64 382.95h15.76v3.73h-15.76zM379.34 382.95h19.70v3.73h-19.70zM402.98 382.95h3.94v3.73h-3.94zM410.86 382.95h3.94v3.73h-3.94zM422.68 382.95h7.88v3.73h-7.88zM442.38 382.95h3.94v3.73h-3.94zM505.42 382.95h3.94v3.73h-3.94zM363.58 386.68h15.76v3.73h-15.76zM387.22 386.68h11.82v3.73h-11.82zM402.98 386.68h3.94v3.73h-3.94zM410.86 386.68h7.88v3.73h-7.88zM430.56 386.68h3.94v3.73h-3.94zM493.60 386.68h3.94v3.73h-3.94zM513.30 386.68h3.94v3.73h-3.94zM351.76 390.41h3.94v3.73h-3.94zM367.52 390.41h15.76v3.73h-15.76zM387.22 390.41h19.70v3.73h-19.70zM410.86 390.41h3.94v3.73h-3.94zM422.68 390.41h3.94v3.73h-3.94zM462.08 390.41h3.94v3.73h-3.94zM363.58 394.15h19.70v3.73h-19.70zM391.16 394.15h3.94v3.73h-3.94zM399.04 394.15h7.88v3.73h-7.88zM410.86 394.15h11.82v3.73h-11.82zM450.26 394.15h3.94v3.73h-3.94zM359.64 397.88h23.64v3.73h-23.64zM391.16 397.88h3.94v3.73h-3.94zM402.98 397.88h3.94v3.73h-3.94zM414.80 397.88h3.94v3.73h-3.94zM466.02 397.88h3.94v3.73h-3.94zM355.70 401.62h23.64v3.73h-23.64zM383.28 401.62h11.82v3.73h-11.82zM399.04 401.62h3.94v3.73h-3.94zM406.92 401.62h3.94v3.73h-3.94zM414.80 401.62h3.94v3.73h-3.94zM442.38 401.62h3.94v3.73h-3.94zM355.70 405.35h15.76v3.73h-15.76zM379.34 405.35h3.94v3.73h-3.94zM391.16 405.35h3.94v3.73h-3.94zM406.92 405.35h3.94v3.73h-3.94zM355.70 409.08h7.88v3.73h-7.88zM367.52 409.08h3.94v3.73h-3.94zM375.40 409.08h19.70v3.73h-19.70zM414.80 409.08h3.94v3.73h-3.94zM359.64 412.82h11.82v3.73h-11.82zM375.40 412.82h11.82v3.73h-11.82zM391.16 412.82h15.76v3.73h-15.76zM410.86 412.82h3.94v3.73h-3.94zM355.70 416.55h39.40v3.73h-39.40zM399.04 416.55h3.94v3.73h-3.94zM410.86 416.55h3.94v3.73h-3.94zM351.76 420.29h11.82v3.73h-11.82zM371.46 420.29h19.70v3.73h-19.70zM399.04 420.29h3.94v3.73h-3.94zM410.86 420.29h3.94v3.73h-3.94zM347.82 424.02h3.94v3.73h-3.94zM355.70 424.02h19.70v3.73h-19.70zM379.34 424.02h7.88v3.73h-7.88zM391.16 424.02h3.94v3.73h-3.94zM399.04 424.02h3.94v3.73h-3.94zM430.56 424.02h3.94v3.73h-3.94zM442.38 424.02h3.94v3.73h-3.94zM351.76 427.75h19.70v3.73h-19.70zM375.40 427.75h19.70v3.73h-19.70zM418.74 427.75h7.88v3.73h-7.88zM434.50 427.75h3.94v3.73h-3.94zM351.76 431.49h31.52v3.73h-31.52zM418.74 431.49h3.94v3.73h-3.94zM347.82 435.22h47.28v3.73h-47.28zM351.76 438.96h7.88v3.73h-7.88zM363.58 438.96h19.70v3.73h-19.70zM406.92 438.96h3.94v3.73h-3.94zM351.76 442.69h35.46v3.73h-35.46zM399.04 442.69h3.94v3.73h-3.94zM410.86 442.69h3.94v3.73h-3.94zM347.82 446.42h35.46v3.73h-35.46zM426.62 446.42h3.94v3.73h-3.94zM347.82 450.16h31.52v3.73h-31.52zM406.92 450.16h3.94v3.73h-3.94zM343.88 453.89h3.94v3.73h-3.94zM351.76 453.89h39.40v3.73h-39.40zM395.10 453.89h3.94v3.73h-3.94zM402.98 453.89h3.94v3.73h-3.94zM418.74 453.89h3.94v3.73h-3.94zM343.88 457.63h31.52v3.73h-31.52zM379.34 457.63h3.94v3.73h-3.94zM391.16 457.63h3.94v3.73h-3.94zM418.74 457.63h7.88v3.73h-7.88zM343.88 461.36h39.40v3.73h-39.40zM387.22 461.36h7.88v3.73h-7.88zM339.94 465.09h47.28v3.73h-47.28zM395.10 465.09h3.94v3.73h-3.94zM339.94 468.83h47.28v3.73h-47.28zM505.42 468.83h7.88v3.73h-7.88zM339.94 472.56h43.34v3.73h-43.34zM387.22 472.56h3.94v3.73h-3.94zM406.92 472.56h3.94v3.73h-3.94zM418.74 472.56h3.94v3.73h-3.94zM438.44 472.56h3.94v3.73h-3.94zM339.94 476.30h39.40v3.73h-39.40zM383.28 476.30h3.94v3.73h-3.94zM336.00 480.03h35.46v3.73h-35.46zM336.00 483.76h27.58v3.73h-27.58zM391.16 483.76h3.94v3.73h-3.94zM402.98 483.76h7.88v3.73h-7.88zM336.00 487.50h19.70v3.73h-19.70zM375.40 487.50h11.82v3.73h-11.82zM336.00 491.23h19.70v3.73h-19.70zM336.00 494.97h23.64v3.73h-23.64zM336.00 480.03h3.94v18.67h-3.94zM339.94 465.09h3.94v33.61h-3.94zM343.88 453.89h3.94v44.81h-3.94zM347.82 446.42h3.94v7.47h-3.94zM347.82 457.63h3.94v41.07h-3.94zM351.76 427.75h3.94v70.95h-3.94zM355.70 401.62h3.94v11.20h-3.94zM355.70 416.55h3.94v70.95h-3.94zM359.64 397.88h3.94v41.07h-3.94zM359.64 442.69h3.94v44.81h-3.94zM363.58 375.48h3.94v14.94h-3.94zM363.58 394.15h3.94v14.94h-3.94zM363.58 412.82h3.94v7.47h-3.94zM363.58 424.02h3.94v59.74h-3.94zM367.52 375.48h3.94v44.81h-3.94zM367.52 424.02h3.94v59.74h-3.94zM371.46 368.01h3.94v37.34h-3.94zM371.46 416.55h3.94v11.20h-3.94zM371.46 431.49h3.94v48.54h-3.94zM375.40 371.74h3.94v11.20h-3.94zM375.40 386.68h3.94v18.67h-3.94zM375.40 409.08h3.94v14.94h-3.94zM375.40 427.75h3.94v29.87h-3.94zM375.40 461.36h3.94v18.67h-3.94zM379.34 375.48h3.94v11.20h-3.94zM379.34 390.41h3.94v11.20h-3.94zM379.34 405.35h3.94v44.81h-3.94zM379.34 453.89h3.94v22.40h-3.94zM383.28 353.07h3.94v7.47h-3.94zM383.28 368.01h3.94v7.47h-3.94zM383.28 379.21h3.94v7.47h-3.94zM383.28 409.08h3.94v22.40h-3.94zM383.28 465.09h3.94v7.47h-3.94zM387.22 326.94h3.94v7.47h-3.94zM387.22 353.07h3.94v18.67h-3.94zM387.22 379.21h3.94v14.94h-3.94zM387.22 416.55h3.94v7.47h-3.94zM391.16 312.00h3.94v11.20h-3.94zM391.16 338.14h3.94v7.47h-3.94zM391.16 356.81h3.94v7.47h-3.94zM391.16 379.21h3.94v41.07h-3.94zM391.16 424.02h3.94v7.47h-3.94zM391.16 457.63h3.94v7.47h-3.94zM395.10 330.67h3.94v7.47h-3.94zM395.10 341.87h3.94v18.67h-3.94zM395.10 364.28h3.94v11.20h-3.94zM395.10 379.21h3.94v14.94h-3.94zM399.04 326.94h3.94v14.94h-3.94zM399.04 349.34h3.94v7.47h-3.94zM399.04 368.01h3.94v7.47h-3.94zM399.04 390.41h3.94v7.47h-3.94zM399.04 412.82h3.94v14.94h-3.94zM402.98 315.73h3.94v7.47h-3.94zM402.98 330.67h3.94v33.61h-3.94zM402.98 368.01h3.94v7.47h-3.94zM402.98 379.21h3.94v22.40h-3.94zM406.92 312.00h3.94v7.47h-3.94zM406.92 330.67h3.94v22.40h-3.94zM406.92 360.54h3.94v22.40h-3.94zM406.92 401.62h3.94v7.47h-3.94zM410.86 312.00h3.94v7.47h-3.94zM410.86 330.67h3.94v7.47h-3.94zM410.86 349.34h3.94v11.20h-3.94zM410.86 382.95h3.94v14.94h-3.94zM410.86 412.82h3.94v11.20h-3.94zM414.80 364.28h3.94v7.47h-3.94zM414.80 394.15h3.94v11.20h-3.94zM418.74 427.75h3.94v7.47h-3.94zM418.74 453.89h3.94v7.47h-3.94zM422.68 334.40h3.94v7.47h-3.94zM422.68 345.61h3.94v18.67h-3.94zM422.68 371.74h3.94v7.47h-3.94zM426.62 319.47h3.94v7.47h-3.94zM426.62 330.67h3.94v11.20h-3.94zM426.62 349.34h3.94v22.40h-3.94zM430.56 312.00h3.94v11.20h-3.94zM430.56 330.67h3.94v7.47h-3.94zM430.56 356.81h3.94v7.47h-3.94zM434.50 312.00h3.94v7.47h-3.94zM434.50 371.74h3.94v7.47h-3.94zM438.44 315.73h3.94v11.20h-3.94zM438.44 341.87h3.94v14.94h-3.94zM438.44 360.54h3.94v7.47h-3.94zM442.38 341.87h3.94v7.47h-3.94zM442.38 360.54h3.94v7.47h-3.94zM446.32 312.00h3.94v11.20h-3.94zM446.32 360.54h3.94v7.47h-3.94zM450.26 319.47h3.94v14.94h-3.94zM450.26 349.34h3.94v7.47h-3.94zM450.26 364.28h3.94v7.47h-3.94zM454.20 312.00h3.94v26.14h-3.94zM454.20 349.34h3.94v14.94h-3.94zM458.14 360.54h3.94v11.20h-3.94zM462.08 323.20h3.94v11.20h-3.94zM462.08 345.61h3.94v7.47h-3.94zM462.08 356.81h3.94v7.47h-3.94zM466.02 312.00h3.94v11.20h-3.94zM466.02 338.14h3.94v7.47h-3.94zM469.96 315.73h3.94v7.47h-3.94zM469.96 326.94h3.94v11.20h-3.94zM473.90 319.47h3.94v7.47h-3.94zM473.90 334.40h3.94v7.47h-3.94zM477.84 319.47h3.94v7.47h-3.94zM477.84 330.67h3.94v7.47h-3.94zM477.84 341.87h3.94v7.47h-3.94zM481.78 312.00h3.94v14.94h-3.94zM489.66 315.73h3.94v7.47h-3.94zM493.60 326.94h3.94v7.47h-3.94zM497.54 312.00h3.94v26.14h-3.94zM497.54 349.34h3.94v7.47h-3.94zM509.36 315.73h3.94v7.47h-3.94zM513.30 326.94h3.94v7.47h-3.94zM517.24 312.00h3.94v11.20h-3.94zM521.18 319.47h3.94v7.47h-3.94zM525.12 312.00h3.94v11.20h-3.94zM529.06 312.00h3.94v7.47h-3.94zM529.06 330.67h3.94v7.47h-3.94z"/><g><rect x="339.94" y="465.09" width="3.94" height="3.73" fill="#95c5f1"/><rect x="339.94" y="468.83" width="3.94" height="3.73" fill="#8cc2f1"/><rect x="343.88" y="468.83" width="3.94" height="3.73" fill="#80bff2"/><rect x="339.94" y="472.56" width="3.94" height="3.73" fill="#75bbf2"/><rect x="343.88" y="472.56" width="3.94" height="3.73" fill="#46acef"/><rect x="339.94" y="476.30" width="3.94" height="3.73" fill="#80bff2"/><rect x="343.88" y="476.30" width="3.94" height="3.73" fill="#6ab7f2"/><rect x="339.94" y="480.03" width="3.94" height="3.73" fill="#8cc2f1"/><rect x="343.88" y="480.03" width="3.94" height="3.73" fill="#8cc2f1"/><rect x="336.00" y="491.23" width="3.94" height="3.73" fill="#229ee8"/><rect x="336.00" y="494.97" width="3.94" height="3.73" fill="#204862"/></g>
<g fill="none" stroke="#FF7010" stroke-width="0.5" stroke-opacity="0.8">
<rect x="426.90" y="85.20" width="15.20" height="36.80"/>
<rect x="427.20" y="86.50" width="14.60" height="34.20"/>
<rect x="427.00" y="87.70" width="15.00" height="31.80"/>
<rect x="427.35" y="89.00" width="14.30" height="29.20"/>
<rect x="427.10" y="90.30" width="14.80" height="26.60"/>
<rect x="427.45" y="91.50" width="14.10" height="24.20"/>
<rect x="427.25" y="92.80" width="14.50" height="21.60"/>
<rect x="427.55" y="94.00" width="13.90" height="19.20"/>
</g>
<g fill="none" stroke="#FF7010" stroke-width="0.7" stroke-opacity="0.9">
<rect x="428.70" y="95.00" width="11.60" height="17.20"/>
<rect x="429.30" y="95.30" width="10.50" height="16.60"/>
<rect x="429.90" y="95.60" width="9.40" height="16.00"/>
<rect x="430.50" y="95.90" width="8.20" height="15.50"/>
<rect x="431.10" y="96.10" width="7.00" height="15.10"/>
<rect x="429.00" y="88.30" width="11.00" height="30.60"/>
<rect x="430.00" y="91.00" width="9.10" height="25.20"/>
</g>
<rect x="432.85" y="100.85" width="3.3" height="5.3" fill="#fff" stroke="#FF3838" stroke-width="1.7"/>
</svg>
</body></html>
